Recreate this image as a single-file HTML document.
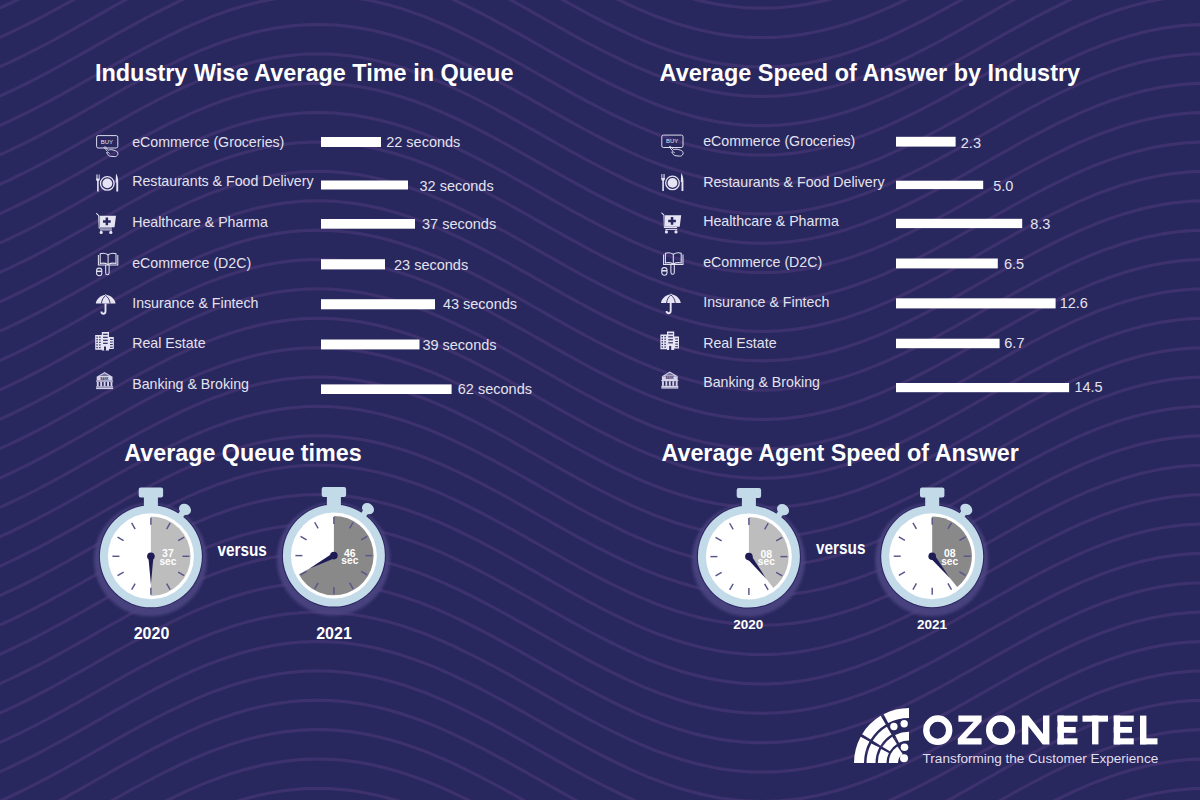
<!DOCTYPE html><html><head><meta charset="utf-8"><title>Ozonetel</title><style>html,body{margin:0;padding:0;background:#28275e;}svg{display:block;font-family:"Liberation Sans",sans-serif;}</style></head><body><svg width="1200" height="800" viewBox="0 0 1200 800"><defs><filter id="hb" x="-20%" y="-20%" width="140%" height="140%"><feGaussianBlur stdDeviation="1.6"/></filter></defs><rect width="1200" height="800" fill="#28275e"/><defs><path id="wv" d="M-18 137.8 L-12 135.4 L-6 132.9 L0 130.3 L6 127.6 L12 124.8 L18 121.9 L24 119.0 L30 116.0 L36 113.0 L42 109.8 L48 106.7 L54 103.4 L60 100.2 L66 96.9 L72 93.5 L78 90.2 L84 86.8 L90 83.4 L96 80.0 L102 76.6 L108 73.2 L114 69.8 L120 66.5 L126 63.1 L132 59.8 L138 56.6 L144 53.3 L150 50.2 L156 47.0 L162 44.0 L168 41.0 L174 38.1 L180 35.2 L186 32.4 L192 29.7 L198 27.1 L204 24.6 L210 22.2 L216 19.9 L222 17.8 L228 15.7 L234 13.7 L240 11.9 L246 10.2 L252 8.6 L258 7.1 L264 5.8 L270 4.6 L276 3.5 L282 2.6 L288 1.8 L294 1.2 L300 0.6 L306 0.3 L312 0.1 L318 0.0 L324 0.1 L330 0.3 L336 0.6 L342 1.2 L348 1.8 L354 2.6 L360 3.5 L366 4.6 L372 5.8 L378 7.1 L384 8.6 L390 10.2 L396 11.9 L402 13.7 L408 15.7 L414 17.8 L420 19.9 L426 22.2 L432 24.6 L438 27.1 L444 29.7 L450 32.4 L456 35.2 L462 38.1 L468 41.0 L474 44.0 L480 47.0 L486 50.2 L492 53.3 L498 56.6 L504 59.8 L510 63.1 L516 66.5 L522 69.8 L528 73.2 L534 76.6 L540 80.0 L546 83.4 L552 86.8 L558 90.2 L564 93.5 L570 96.9 L576 100.2 L582 103.4 L588 106.7 L594 109.8 L600 113.0 L606 116.0 L612 119.0 L618 121.9 L624 124.8 L630 127.6 L636 130.3 L642 132.9 L648 135.4 L654 137.8 L660 140.1 L666 142.2 L672 144.3 L678 146.3 L684 148.1 L690 149.8 L696 151.4 L702 152.9 L708 154.2 L714 155.4 L720 156.5 L726 157.4 L732 158.2 L738 158.8 L744 159.4 L750 159.7 L756 159.9 L762 160.0 L768 159.9 L774 159.7 L780 159.4 L786 158.8 L792 158.2 L798 157.4 L804 156.5 L810 155.4 L816 154.2 L822 152.9 L828 151.4 L834 149.8 L840 148.1 L846 146.3 L852 144.3 L858 142.2 L864 140.1 L870 137.8 L876 135.4 L882 132.9 L888 130.3 L894 127.6 L900 124.8 L906 121.9 L912 119.0 L918 116.0 L924 113.0 L930 109.8 L936 106.7 L942 103.4 L948 100.2 L954 96.9 L960 93.5 L966 90.2 L972 86.8 L978 83.4 L984 80.0 L990 76.6 L996 73.2 L1002 69.8 L1008 66.5 L1014 63.1 L1020 59.8 L1026 56.6 L1032 53.3 L1038 50.2 L1044 47.0 L1050 44.0 L1056 41.0 L1062 38.1 L1068 35.2 L1074 32.4 L1080 29.7 L1086 27.1 L1092 24.6 L1098 22.2 L1104 19.9 L1110 17.8 L1116 15.7 L1122 13.7 L1128 11.9 L1134 10.2 L1140 8.6 L1146 7.1 L1152 5.8 L1158 4.6 L1164 3.5 L1170 2.6 L1176 1.8 L1182 1.2 L1188 0.6 L1194 0.3 L1200 0.1 L1206 0.0 L1212 0.1 L1218 0.3" fill="none" stroke="#3c316d" stroke-width="3.2"/><filter id="wb" x="0" y="0" width="1" height="1"><feGaussianBlur stdDeviation="0.55"/></filter></defs><g filter="url(#wb)"><use href="#wv" y="-328.1"/><use href="#wv" y="-298.7"/><use href="#wv" y="-269.3"/><use href="#wv" y="-239.9"/><use href="#wv" y="-210.5"/><use href="#wv" y="-181.2"/><use href="#wv" y="-151.8"/><use href="#wv" y="-122.4"/><use href="#wv" y="-93.0"/><use href="#wv" y="-63.6"/><use href="#wv" y="-34.3"/><use href="#wv" y="-4.9"/><use href="#wv" y="24.5"/><use href="#wv" y="53.9"/><use href="#wv" y="83.3"/><use href="#wv" y="112.6"/><use href="#wv" y="142.0"/><use href="#wv" y="171.4"/><use href="#wv" y="200.8"/><use href="#wv" y="230.2"/><use href="#wv" y="259.5"/><use href="#wv" y="288.9"/><use href="#wv" y="318.3"/><use href="#wv" y="347.7"/><use href="#wv" y="377.1"/><use href="#wv" y="406.4"/><use href="#wv" y="435.8"/><use href="#wv" y="465.2"/><use href="#wv" y="494.6"/><use href="#wv" y="524.0"/><use href="#wv" y="553.3"/><use href="#wv" y="582.7"/><use href="#wv" y="612.1"/><use href="#wv" y="641.5"/><use href="#wv" y="670.9"/><use href="#wv" y="700.2"/><use href="#wv" y="729.6"/><use href="#wv" y="759.0"/><use href="#wv" y="788.4"/><use href="#wv" y="817.8"/><use href="#wv" y="847.1"/><use href="#wv" y="876.5"/></g><text x="94.9" y="80.8" font-size="23.46" font-weight="bold" fill="#ffffff">Industry Wise Average Time in Queue</text><text x="659.6" y="81.2" font-size="23.46" font-weight="bold" fill="#ffffff">Average Speed of Answer by Industry</text><text x="124.3" y="461" font-size="23.3" font-weight="bold" fill="#ffffff">Average Queue times</text><text x="661.5" y="461.3" font-size="23.3" font-weight="bold" fill="#ffffff">Average Agent Speed of Answer</text><g transform="translate(96,135)" fill="none" stroke="#e6e4f3" stroke-width="0.95" stroke-linejoin="round"><rect x="0.6" y="0.6" width="21.2" height="12.4" rx="1.6"/><text x="10.9" y="8.9" font-size="6.2" fill="#e6e4f3" stroke="none" text-anchor="middle" textLength="12.4" lengthAdjust="spacingAndGlyphs">BUY</text><path d="M8.2 12.6 C8 12 8.8 11.5 9.4 12 L12.6 15.2 C13.8 14.6 15.6 14.5 17 15 L19.4 15.7 C21.2 16.2 22.3 17.8 21.8 19.4 C21.3 21 19.8 21.8 18.2 21.6 L14.8 21.3 C13.2 21.1 12.1 20.2 11.4 19 L10.6 17.4 C11.6 16.9 12.5 17.3 12.9 17.9 L13.4 18.6 M8.2 12.6 L11.4 16.3"/></g><g transform="translate(661.2,134.5)" fill="none" stroke="#e6e4f3" stroke-width="0.95" stroke-linejoin="round"><rect x="0.6" y="0.6" width="21.2" height="12.4" rx="1.6"/><text x="10.9" y="8.9" font-size="6.2" fill="#e6e4f3" stroke="none" text-anchor="middle" textLength="12.4" lengthAdjust="spacingAndGlyphs">BUY</text><path d="M8.2 12.6 C8 12 8.8 11.5 9.4 12 L12.6 15.2 C13.8 14.6 15.6 14.5 17 15 L19.4 15.7 C21.2 16.2 22.3 17.8 21.8 19.4 C21.3 21 19.8 21.8 18.2 21.6 L14.8 21.3 C13.2 21.1 12.1 20.2 11.4 19 L10.6 17.4 C11.6 16.9 12.5 17.3 12.9 17.9 L13.4 18.6 M8.2 12.6 L11.4 16.3"/></g><text x="132.2" y="146.7" font-size="14.2" fill="#e4e2ef">eCommerce (Groceries)</text><text x="703.2" y="145.8" font-size="14.2" fill="#e4e2ef">eCommerce (Groceries)</text><rect x="321" y="137" width="60.0" height="10.0" fill="#ffffff"/><text x="386.2" y="147.3" font-size="14.5" fill="#e4e2ef">22 seconds</text><rect x="896" y="136.8" width="59.6" height="9.8" fill="#ffffff"/><text x="960.8" y="147.9" font-size="14.5" fill="#e4e2ef">2.3</text><g transform="translate(96,174.5)" fill="#e6e4f3"><rect x="1.1" y="6" width="1.6" height="11"/><path d="M0 0 L0 4.5 C0 6 1 6.8 1.9 6.8 C2.8 6.8 3.8 6 3.8 4.5 L3.8 0 L3.2 0 L3.2 4 L2.3 4 L2.3 0 L1.5 0 L1.5 4 L0.6 4 L0.6 0Z"/><circle cx="11.3" cy="8.9" r="6.8" fill="none" stroke="#e6e4f3" stroke-width="1.3"/><circle cx="11.3" cy="8.9" r="4.9"/><path d="M20 -1 C21.5 1 22.2 4 22.2 7 L22.2 17 L20.3 17 L20.3 8 L19.6 8 Z"/></g><g transform="translate(661.2,174.0)" fill="#e6e4f3"><rect x="1.1" y="6" width="1.6" height="11"/><path d="M0 0 L0 4.5 C0 6 1 6.8 1.9 6.8 C2.8 6.8 3.8 6 3.8 4.5 L3.8 0 L3.2 0 L3.2 4 L2.3 4 L2.3 0 L1.5 0 L1.5 4 L0.6 4 L0.6 0Z"/><circle cx="11.3" cy="8.9" r="6.8" fill="none" stroke="#e6e4f3" stroke-width="1.3"/><circle cx="11.3" cy="8.9" r="4.9"/><path d="M20 -1 C21.5 1 22.2 4 22.2 7 L22.2 17 L20.3 17 L20.3 8 L19.6 8 Z"/></g><text x="132.2" y="186.3" font-size="14.2" fill="#e4e2ef">Restaurants &amp; Food Delivery</text><text x="703.2" y="186.5" font-size="14.2" fill="#e4e2ef">Restaurants &amp; Food Delivery</text><rect x="321" y="180.5" width="87.0" height="9.0" fill="#ffffff"/><text x="419.5" y="190.5" font-size="14.5" fill="#e4e2ef">32 seconds</text><rect x="896" y="180.7" width="87.2" height="8.4" fill="#ffffff"/><text x="993.2" y="190.6" font-size="14.5" fill="#e4e2ef">5.0</text><g transform="translate(96.5,212.8)" fill="#e6e4f3"><path d="M0 0 L2.6 2.4 L3.1 14.6 L15.3 14.6 L15.3 15.6 L2.2 15.6 L1.7 3 L-0.5 0.9Z"/><path fill-rule="evenodd" d="M3 3 L19.5 3 L18 14.5 L3.4 14.5Z M9.1 4.8 L11.6 4.8 L11.6 7.4 L14.2 7.4 L14.2 9.9 L11.6 9.9 L11.6 12.5 L9.1 12.5 L9.1 9.9 L6.5 9.9 L6.5 7.4 L9.1 7.4Z"/><circle cx="4.7" cy="19.6" r="1.6"/><circle cx="14.3" cy="19.6" r="1.6"/><rect x="3.5" y="16.6" width="12" height="1"/></g><g transform="translate(661.7,212.3)" fill="#e6e4f3"><path d="M0 0 L2.6 2.4 L3.1 14.6 L15.3 14.6 L15.3 15.6 L2.2 15.6 L1.7 3 L-0.5 0.9Z"/><path fill-rule="evenodd" d="M3 3 L19.5 3 L18 14.5 L3.4 14.5Z M9.1 4.8 L11.6 4.8 L11.6 7.4 L14.2 7.4 L14.2 9.9 L11.6 9.9 L11.6 12.5 L9.1 12.5 L9.1 9.9 L6.5 9.9 L6.5 7.4 L9.1 7.4Z"/><circle cx="4.7" cy="19.6" r="1.6"/><circle cx="14.3" cy="19.6" r="1.6"/><rect x="3.5" y="16.6" width="12" height="1"/></g><text x="132.2" y="227" font-size="14.2" fill="#e4e2ef">Healthcare &amp; Pharma</text><text x="703.2" y="226" font-size="14.2" fill="#e4e2ef">Healthcare &amp; Pharma</text><rect x="321" y="219" width="94.0" height="9.7" fill="#ffffff"/><text x="422.0" y="229.3" font-size="14.5" fill="#e4e2ef">37 seconds</text><rect x="896" y="218.8" width="126.2" height="9.3" fill="#ffffff"/><text x="1030.2" y="228.7" font-size="14.5" fill="#e4e2ef">8.3</text><g transform="translate(95.5,252.5)" fill="none" stroke="#e6e4f3" stroke-width="1.05"><path d="M2.9 2.6 L2.9 12.4 L22.3 12.4 L22.3 2.6"/><path d="M4.7 11 L4.7 1.3 C7.5 0.3 10 0.7 12.6 2.2 C15.2 0.7 17.7 0.3 20.5 1.3 L20.5 11 C17.7 10.2 15.2 10.6 12.6 12 C10 10.6 7.5 10.2 4.7 11Z"/><path d="M12.6 2.2 L12.6 12"/><path d="M10.2 12.4 L10.2 20.2 C10.2 21.6 11 22.3 11.9 22.3 C12.8 22.3 13.6 21.6 13.6 20.2 L13.6 12.4"/><rect x="1.1" y="15.6" width="5.2" height="7.6" rx="2.5"/><path d="M1.1 18.8 L6.3 18.8" stroke-width="1.5"/></g><g transform="translate(660.7,252.0)" fill="none" stroke="#e6e4f3" stroke-width="1.05"><path d="M2.9 2.6 L2.9 12.4 L22.3 12.4 L22.3 2.6"/><path d="M4.7 11 L4.7 1.3 C7.5 0.3 10 0.7 12.6 2.2 C15.2 0.7 17.7 0.3 20.5 1.3 L20.5 11 C17.7 10.2 15.2 10.6 12.6 12 C10 10.6 7.5 10.2 4.7 11Z"/><path d="M12.6 2.2 L12.6 12"/><path d="M10.2 12.4 L10.2 20.2 C10.2 21.6 11 22.3 11.9 22.3 C12.8 22.3 13.6 21.6 13.6 20.2 L13.6 12.4"/><rect x="1.1" y="15.6" width="5.2" height="7.6" rx="2.5"/><path d="M1.1 18.8 L6.3 18.8" stroke-width="1.5"/></g><text x="132.2" y="268" font-size="14.2" fill="#e4e2ef">eCommerce (D2C)</text><text x="703.2" y="267.3" font-size="14.2" fill="#e4e2ef">eCommerce (D2C)</text><rect x="321" y="259.2" width="64.0" height="10.2" fill="#ffffff"/><text x="394.0" y="270.1" font-size="14.5" fill="#e4e2ef">23 seconds</text><rect x="896" y="258.5" width="101.8" height="9.9" fill="#ffffff"/><text x="1004.0" y="269.4" font-size="14.5" fill="#e4e2ef">6.5</text><g transform="translate(95.8,293.7)"><path d="M10 0 L10.8 1.2 C15.5 1.8 19.3 5.5 19.8 9.8 L0 9.8 C0.5 5.5 4.3 1.8 9.2 1.2Z" fill="#e6e4f3"/><path d="M9.9 1.8 C7.5 3.5 6 6.5 5.6 9.8 M9.9 1.8 C12.4 3.5 13.9 6.5 14.3 9.8" fill="none" stroke="#28275e" stroke-width="0.9"/><path d="M9.7 9.8 L9.7 17.6 C9.7 19.2 8.7 20 7.6 20 C6.4 20 5.6 19.2 5.6 17.8" fill="none" stroke="#e6e4f3" stroke-width="1.9"/></g><g transform="translate(661.0,293.2)"><path d="M10 0 L10.8 1.2 C15.5 1.8 19.3 5.5 19.8 9.8 L0 9.8 C0.5 5.5 4.3 1.8 9.2 1.2Z" fill="#e6e4f3"/><path d="M9.9 1.8 C7.5 3.5 6 6.5 5.6 9.8 M9.9 1.8 C12.4 3.5 13.9 6.5 14.3 9.8" fill="none" stroke="#28275e" stroke-width="0.9"/><path d="M9.7 9.8 L9.7 17.6 C9.7 19.2 8.7 20 7.6 20 C6.4 20 5.6 19.2 5.6 17.8" fill="none" stroke="#e6e4f3" stroke-width="1.9"/></g><text x="132.2" y="308" font-size="14.2" fill="#e4e2ef">Insurance &amp; Fintech</text><text x="703.2" y="307" font-size="14.2" fill="#e4e2ef">Insurance &amp; Fintech</text><rect x="321" y="299.2" width="114.0" height="10.1" fill="#ffffff"/><text x="442.9" y="309.3" font-size="14.5" fill="#e4e2ef">43 seconds</text><rect x="896" y="298.3" width="159.6" height="10.1" fill="#ffffff"/><text x="1059.7" y="308.4" font-size="14.5" fill="#e4e2ef">12.6</text><g transform="translate(95.2,331.9)"><path d="M0 3 L6.6 3 L6.6 0 L13.8 0 L13.8 5.2 L18.6 5.2 L18.6 17.2 L13.8 17.2 L13.8 18.6 L6.6 18.6 L6.6 17.9 L0 17.9Z" fill="#e6e4f3"/><rect x="1.2" y="4.6" width="1.4" height="1.3" fill="#28275e"/><rect x="4.0" y="4.6" width="1.4" height="1.3" fill="#28275e"/><rect x="1.2" y="7.2" width="1.4" height="1.3" fill="#28275e"/><rect x="4.0" y="7.2" width="1.4" height="1.3" fill="#28275e"/><rect x="1.2" y="9.8" width="1.4" height="1.3" fill="#28275e"/><rect x="4.0" y="9.8" width="1.4" height="1.3" fill="#28275e"/><rect x="1.2" y="12.4" width="1.4" height="1.3" fill="#28275e"/><rect x="4.0" y="12.4" width="1.4" height="1.3" fill="#28275e"/><rect x="1.2" y="15.0" width="1.4" height="1.3" fill="#28275e"/><rect x="4.0" y="15.0" width="1.4" height="1.3" fill="#28275e"/><rect x="7.9" y="1.8" width="4.6" height="1.2" fill="#28275e"/><rect x="7.9" y="4.8" width="4.6" height="1.2" fill="#28275e"/><rect x="7.9" y="7.8" width="4.6" height="1.2" fill="#28275e"/><rect x="7.9" y="10.8" width="4.6" height="1.2" fill="#28275e"/><rect x="14.8" y="7.0" width="2.8" height="1" fill="#28275e"/><rect x="14.8" y="9.6" width="2.8" height="1" fill="#28275e"/><rect x="14.8" y="12.2" width="2.8" height="1" fill="#28275e"/><rect x="14.8" y="14.8" width="2.8" height="1" fill="#28275e"/><rect x="8.8" y="14.6" width="2" height="4.2" fill="#28275e"/></g><g transform="translate(660.4000000000001,331.4)"><path d="M0 3 L6.6 3 L6.6 0 L13.8 0 L13.8 5.2 L18.6 5.2 L18.6 17.2 L13.8 17.2 L13.8 18.6 L6.6 18.6 L6.6 17.9 L0 17.9Z" fill="#e6e4f3"/><rect x="1.2" y="4.6" width="1.4" height="1.3" fill="#28275e"/><rect x="4.0" y="4.6" width="1.4" height="1.3" fill="#28275e"/><rect x="1.2" y="7.2" width="1.4" height="1.3" fill="#28275e"/><rect x="4.0" y="7.2" width="1.4" height="1.3" fill="#28275e"/><rect x="1.2" y="9.8" width="1.4" height="1.3" fill="#28275e"/><rect x="4.0" y="9.8" width="1.4" height="1.3" fill="#28275e"/><rect x="1.2" y="12.4" width="1.4" height="1.3" fill="#28275e"/><rect x="4.0" y="12.4" width="1.4" height="1.3" fill="#28275e"/><rect x="1.2" y="15.0" width="1.4" height="1.3" fill="#28275e"/><rect x="4.0" y="15.0" width="1.4" height="1.3" fill="#28275e"/><rect x="7.9" y="1.8" width="4.6" height="1.2" fill="#28275e"/><rect x="7.9" y="4.8" width="4.6" height="1.2" fill="#28275e"/><rect x="7.9" y="7.8" width="4.6" height="1.2" fill="#28275e"/><rect x="7.9" y="10.8" width="4.6" height="1.2" fill="#28275e"/><rect x="14.8" y="7.0" width="2.8" height="1" fill="#28275e"/><rect x="14.8" y="9.6" width="2.8" height="1" fill="#28275e"/><rect x="14.8" y="12.2" width="2.8" height="1" fill="#28275e"/><rect x="14.8" y="14.8" width="2.8" height="1" fill="#28275e"/><rect x="8.8" y="14.6" width="2" height="4.2" fill="#28275e"/></g><text x="132.2" y="348.3" font-size="14.2" fill="#e4e2ef">Real Estate</text><text x="703.2" y="347.7" font-size="14.2" fill="#e4e2ef">Real Estate</text><rect x="321" y="339.5" width="98.5" height="9.9" fill="#ffffff"/><text x="422.4" y="349.6" font-size="14.5" fill="#e4e2ef">39 seconds</text><rect x="896" y="338.7" width="103.6" height="9.5" fill="#ffffff"/><text x="1004.3" y="348.2" font-size="14.5" fill="#e4e2ef">6.7</text><g transform="translate(96.1,371.9)" fill="#d6d3ea"><path d="M0.2 5 L8.5 0 L16.8 5Z"/><path d="M3.6 4.1 L8.5 1.3 L13.4 4.1Z" fill="#28275e" fill-opacity="0.55"/><rect x="0.6" y="5" width="15.8" height="3.6"/><text x="8.5" y="7.9" font-size="3.2" font-weight="bold" fill="#28275e" text-anchor="middle" textLength="8" lengthAdjust="spacingAndGlyphs">BANK</text><rect x="0" y="8.6" width="17" height="1.2"/><rect x="0.7" y="9.8" width="1.9" height="4.6"/><rect x="4.1" y="9.8" width="1.9" height="4.6"/><rect x="7.55" y="9.8" width="1.9" height="4.6"/><rect x="11" y="9.8" width="1.9" height="4.6"/><rect x="14.4" y="9.8" width="1.9" height="4.6"/><rect x="0" y="14.4" width="17" height="1.2"/><rect x="0" y="15.8" width="17" height="1.4"/></g><g transform="translate(661.3000000000001,371.4)" fill="#d6d3ea"><path d="M0.2 5 L8.5 0 L16.8 5Z"/><path d="M3.6 4.1 L8.5 1.3 L13.4 4.1Z" fill="#28275e" fill-opacity="0.55"/><rect x="0.6" y="5" width="15.8" height="3.6"/><text x="8.5" y="7.9" font-size="3.2" font-weight="bold" fill="#28275e" text-anchor="middle" textLength="8" lengthAdjust="spacingAndGlyphs">BANK</text><rect x="0" y="8.6" width="17" height="1.2"/><rect x="0.7" y="9.8" width="1.9" height="4.6"/><rect x="4.1" y="9.8" width="1.9" height="4.6"/><rect x="7.55" y="9.8" width="1.9" height="4.6"/><rect x="11" y="9.8" width="1.9" height="4.6"/><rect x="14.4" y="9.8" width="1.9" height="4.6"/><rect x="0" y="14.4" width="17" height="1.2"/><rect x="0" y="15.8" width="17" height="1.4"/></g><text x="132.2" y="388.8" font-size="14.2" fill="#e4e2ef">Banking &amp; Broking</text><text x="703.2" y="387.4" font-size="14.2" fill="#e4e2ef">Banking &amp; Broking</text><rect x="321" y="384.4" width="130.6" height="9.6" fill="#ffffff"/><text x="457.8" y="393.6" font-size="14.5" fill="#e4e2ef">62 seconds</text><rect x="896" y="383" width="173.1" height="9.2" fill="#ffffff"/><text x="1074.4" y="391.8" font-size="14.5" fill="#e4e2ef">14.5</text><g><circle cx="150.4" cy="559.8" r="56.5" fill="#4e4683" fill-opacity="0.85" filter="url(#hb)"/><circle cx="150.9" cy="556.3" r="52.0" fill="#2a2560"/><rect x="143.9" y="496.29999999999995" width="14" height="12" fill="#c3dbe8"/><rect x="138.70000000000002" y="487.59999999999997" width="24.4" height="10" rx="2" fill="#c3dbe8"/><line x1="179.7" y1="516.7" x2="185.0" y2="509.4" stroke="#c3dbe8" stroke-width="6"/><ellipse cx="185.0" cy="509.4" rx="6.3" ry="5.3" transform="rotate(36 185.0 509.4)" fill="#c3dbe8"/><circle cx="150.9" cy="556.3" r="51.0" fill="#c3dbe8"/><circle cx="150.9" cy="556.3" r="43" fill="#ffffff"/><path d="M150.90 556.30 L150.90 516.60 A39.7 39.7 0 0 1 150.90 596.00 Z" fill="#bdbdbd"/><line x1="150.90" y1="524.80" x2="150.90" y2="517.80" stroke="#58558a" stroke-width="1.45"/><line x1="166.65" y1="529.02" x2="170.15" y2="522.96" stroke="#58558a" stroke-width="1.45"/><line x1="178.18" y1="540.55" x2="184.24" y2="537.05" stroke="#58558a" stroke-width="1.45"/><line x1="182.40" y1="556.30" x2="189.40" y2="556.30" stroke="#58558a" stroke-width="1.45"/><line x1="178.18" y1="572.05" x2="184.24" y2="575.55" stroke="#58558a" stroke-width="1.45"/><line x1="166.65" y1="583.58" x2="170.15" y2="589.64" stroke="#58558a" stroke-width="1.45"/><line x1="150.90" y1="587.80" x2="150.90" y2="594.80" stroke="#58558a" stroke-width="1.45"/><line x1="135.15" y1="583.58" x2="131.65" y2="589.64" stroke="#58558a" stroke-width="1.45"/><line x1="123.62" y1="572.05" x2="117.56" y2="575.55" stroke="#58558a" stroke-width="1.45"/><line x1="119.40" y1="556.30" x2="112.40" y2="556.30" stroke="#58558a" stroke-width="1.45"/><line x1="123.62" y1="540.55" x2="117.56" y2="537.05" stroke="#58558a" stroke-width="1.45"/><line x1="135.15" y1="529.02" x2="131.65" y2="522.96" stroke="#58558a" stroke-width="1.45"/><path d="M153.50 556.30 L150.90 584.30 L148.30 556.30 Z" fill="#1f1b55"/><circle cx="150.9" cy="556.3" r="3.8" fill="#1f1b55"/><text x="167.90" y="557.20" font-size="11.2" font-weight="bold" fill="#fff" text-anchor="middle" textLength="11.6" lengthAdjust="spacingAndGlyphs">37</text><text x="167.90" y="565.10" font-size="11.2" font-weight="bold" fill="#fff" text-anchor="middle" textLength="17" lengthAdjust="spacingAndGlyphs">sec</text></g><g><circle cx="333.4" cy="559.1" r="56.5" fill="#4e4683" fill-opacity="0.85" filter="url(#hb)"/><circle cx="333.9" cy="555.6" r="52.0" fill="#2a2560"/><rect x="326.9" y="495.6" width="14" height="12" fill="#c3dbe8"/><rect x="321.7" y="486.90000000000003" width="24.4" height="10" rx="2" fill="#c3dbe8"/><line x1="362.7" y1="516.0" x2="368.0" y2="508.7" stroke="#c3dbe8" stroke-width="6"/><ellipse cx="368.0" cy="508.7" rx="6.3" ry="5.3" transform="rotate(36 368.0 508.7)" fill="#c3dbe8"/><circle cx="333.9" cy="555.6" r="51.0" fill="#c3dbe8"/><circle cx="333.9" cy="555.6" r="43" fill="#ffffff"/><path d="M333.90 555.60 L333.90 515.90 A39.7 39.7 0 1 1 298.85 574.24 Z" fill="#898989"/><line x1="333.90" y1="524.10" x2="333.90" y2="517.10" stroke="#58558a" stroke-width="1.45"/><line x1="349.65" y1="528.32" x2="353.15" y2="522.26" stroke="#58558a" stroke-width="1.45"/><line x1="361.18" y1="539.85" x2="367.24" y2="536.35" stroke="#58558a" stroke-width="1.45"/><line x1="365.40" y1="555.60" x2="372.40" y2="555.60" stroke="#58558a" stroke-width="1.45"/><line x1="361.18" y1="571.35" x2="367.24" y2="574.85" stroke="#58558a" stroke-width="1.45"/><line x1="349.65" y1="582.88" x2="353.15" y2="588.94" stroke="#58558a" stroke-width="1.45"/><line x1="333.90" y1="587.10" x2="333.90" y2="594.10" stroke="#58558a" stroke-width="1.45"/><line x1="318.15" y1="582.88" x2="314.65" y2="588.94" stroke="#58558a" stroke-width="1.45"/><line x1="306.62" y1="571.35" x2="300.56" y2="574.85" stroke="#58558a" stroke-width="1.45"/><line x1="302.40" y1="555.60" x2="295.40" y2="555.60" stroke="#58558a" stroke-width="1.45"/><line x1="306.62" y1="539.85" x2="300.56" y2="536.35" stroke="#58558a" stroke-width="1.45"/><line x1="318.15" y1="528.32" x2="314.65" y2="522.26" stroke="#58558a" stroke-width="1.45"/><path d="M335.12 557.90 L309.18 568.75 L332.68 553.30 Z" fill="#1f1b55"/><circle cx="333.9" cy="555.6" r="3.8" fill="#1f1b55"/><text x="349.80" y="556.50" font-size="11.2" font-weight="bold" fill="#fff" text-anchor="middle" textLength="11.6" lengthAdjust="spacingAndGlyphs">46</text><text x="349.80" y="564.40" font-size="11.2" font-weight="bold" fill="#fff" text-anchor="middle" textLength="17" lengthAdjust="spacingAndGlyphs">sec</text></g><g><circle cx="748.4" cy="560.1" r="56.5" fill="#4e4683" fill-opacity="0.85" filter="url(#hb)"/><circle cx="748.9" cy="556.6" r="52.0" fill="#2a2560"/><rect x="741.9" y="496.6" width="14" height="12" fill="#c3dbe8"/><rect x="736.6999999999999" y="487.90000000000003" width="24.4" height="10" rx="2" fill="#c3dbe8"/><line x1="777.7" y1="517.0" x2="783.0" y2="509.7" stroke="#c3dbe8" stroke-width="6"/><ellipse cx="783.0" cy="509.7" rx="6.3" ry="5.3" transform="rotate(36 783.0 509.7)" fill="#c3dbe8"/><circle cx="748.9" cy="556.6" r="51.0" fill="#c3dbe8"/><circle cx="748.9" cy="556.6" r="43" fill="#ffffff"/><path d="M748.90 556.60 L748.90 516.90 A39.7 39.7 0 0 1 773.34 587.88 Z" fill="#bdbdbd"/><line x1="748.90" y1="525.10" x2="748.90" y2="518.10" stroke="#58558a" stroke-width="1.45"/><line x1="764.65" y1="529.32" x2="768.15" y2="523.26" stroke="#58558a" stroke-width="1.45"/><line x1="776.18" y1="540.85" x2="782.24" y2="537.35" stroke="#58558a" stroke-width="1.45"/><line x1="780.40" y1="556.60" x2="787.40" y2="556.60" stroke="#58558a" stroke-width="1.45"/><line x1="776.18" y1="572.35" x2="782.24" y2="575.85" stroke="#58558a" stroke-width="1.45"/><line x1="764.65" y1="583.88" x2="768.15" y2="589.94" stroke="#58558a" stroke-width="1.45"/><line x1="748.90" y1="588.10" x2="748.90" y2="595.10" stroke="#58558a" stroke-width="1.45"/><line x1="733.15" y1="583.88" x2="729.65" y2="589.94" stroke="#58558a" stroke-width="1.45"/><line x1="721.62" y1="572.35" x2="715.56" y2="575.85" stroke="#58558a" stroke-width="1.45"/><line x1="717.40" y1="556.60" x2="710.40" y2="556.60" stroke="#58558a" stroke-width="1.45"/><line x1="721.62" y1="540.85" x2="715.56" y2="537.35" stroke="#58558a" stroke-width="1.45"/><line x1="733.15" y1="529.32" x2="729.65" y2="523.26" stroke="#58558a" stroke-width="1.45"/><path d="M750.95 555.00 L766.14 578.66 L746.85 558.20 Z" fill="#1f1b55"/><circle cx="748.9" cy="556.6" r="3.8" fill="#1f1b55"/><text x="766.30" y="557.50" font-size="11.2" font-weight="bold" fill="#fff" text-anchor="middle" textLength="11.6" lengthAdjust="spacingAndGlyphs">08</text><text x="766.30" y="565.40" font-size="11.2" font-weight="bold" fill="#fff" text-anchor="middle" textLength="17" lengthAdjust="spacingAndGlyphs">sec</text></g><g><circle cx="931.7" cy="559.7" r="56.5" fill="#4e4683" fill-opacity="0.85" filter="url(#hb)"/><circle cx="932.2" cy="556.2" r="52.0" fill="#2a2560"/><rect x="925.2" y="496.20000000000005" width="14" height="12" fill="#c3dbe8"/><rect x="920.0" y="487.50000000000006" width="24.4" height="10" rx="2" fill="#c3dbe8"/><line x1="961.0" y1="516.6" x2="966.3" y2="509.3" stroke="#c3dbe8" stroke-width="6"/><ellipse cx="966.3" cy="509.3" rx="6.3" ry="5.3" transform="rotate(36 966.3 509.3)" fill="#c3dbe8"/><circle cx="932.2" cy="556.2" r="51.0" fill="#c3dbe8"/><circle cx="932.2" cy="556.2" r="43" fill="#ffffff"/><path d="M932.20 556.20 L932.20 516.50 A39.7 39.7 0 0 1 957.18 587.05 Z" fill="#898989"/><line x1="932.20" y1="524.70" x2="932.20" y2="517.70" stroke="#58558a" stroke-width="1.45"/><line x1="947.95" y1="528.92" x2="951.45" y2="522.86" stroke="#58558a" stroke-width="1.45"/><line x1="959.48" y1="540.45" x2="965.54" y2="536.95" stroke="#58558a" stroke-width="1.45"/><line x1="963.70" y1="556.20" x2="970.70" y2="556.20" stroke="#58558a" stroke-width="1.45"/><line x1="959.48" y1="571.95" x2="965.54" y2="575.45" stroke="#58558a" stroke-width="1.45"/><line x1="947.95" y1="583.48" x2="951.45" y2="589.54" stroke="#58558a" stroke-width="1.45"/><line x1="932.20" y1="587.70" x2="932.20" y2="594.70" stroke="#58558a" stroke-width="1.45"/><line x1="916.45" y1="583.48" x2="912.95" y2="589.54" stroke="#58558a" stroke-width="1.45"/><line x1="904.92" y1="571.95" x2="898.86" y2="575.45" stroke="#58558a" stroke-width="1.45"/><line x1="900.70" y1="556.20" x2="893.70" y2="556.20" stroke="#58558a" stroke-width="1.45"/><line x1="904.92" y1="540.45" x2="898.86" y2="536.95" stroke="#58558a" stroke-width="1.45"/><line x1="916.45" y1="528.92" x2="912.95" y2="522.86" stroke="#58558a" stroke-width="1.45"/><path d="M934.22 554.56 L949.82 577.96 L930.18 557.84 Z" fill="#1f1b55"/><circle cx="932.2" cy="556.2" r="3.8" fill="#1f1b55"/><text x="949.70" y="557.10" font-size="11.2" font-weight="bold" fill="#fff" text-anchor="middle" textLength="11.6" lengthAdjust="spacingAndGlyphs">08</text><text x="949.70" y="565.00" font-size="11.2" font-weight="bold" fill="#fff" text-anchor="middle" textLength="17" lengthAdjust="spacingAndGlyphs">sec</text></g><text x="217.4" y="555.6" font-size="17.6" font-weight="bold" fill="#ffffff" textLength="49.4" lengthAdjust="spacingAndGlyphs">versus</text><text x="816" y="554.3" font-size="17.6" font-weight="bold" fill="#ffffff" textLength="49.4" lengthAdjust="spacingAndGlyphs">versus</text><text x="151.5" y="639" font-size="16" font-weight="bold" fill="#ffffff" text-anchor="middle">2020</text><text x="334" y="639" font-size="16" font-weight="bold" fill="#ffffff" text-anchor="middle">2021</text><text x="748.3" y="629" font-size="13.5" font-weight="bold" fill="#ffffff" text-anchor="middle">2020</text><text x="932" y="629" font-size="13.5" font-weight="bold" fill="#ffffff" text-anchor="middle">2021</text><g fill="#ffffff"><path d="M854.00 763.00 A55 55 0 0 1 860.67 736.76 L869.45 741.53 A45 45 0 0 0 864.00 763.00Z"/><path d="M862.10 734.26 A55 55 0 0 1 880.67 715.86 L885.82 724.43 A45 45 0 0 0 870.63 739.49Z"/><path d="M883.60 714.21 A55 55 0 0 1 909.00 708.00 L909.00 718.00 A45 45 0 0 0 888.22 723.08Z"/><path d="M866.50 763.00 A42.5 42.5 0 0 1 871.30 743.38 L879.29 747.53 A33.5 33.5 0 0 0 875.50 763.00Z"/><path d="M872.76 740.79 A42.5 42.5 0 0 1 886.79 726.76 L891.50 734.44 A33.5 33.5 0 0 0 880.44 745.50Z"/><circle cx="893.88" cy="726.51" r="3.7"/><circle cx="904.19" cy="723.79" r="3.7"/><path d="M877.80 763.00 A31.2 31.2 0 0 1 881.08 749.08 L888.86 752.96 A22.5 22.5 0 0 0 886.50 763.00Z"/><path d="M882.40 746.70 A31.2 31.2 0 0 1 892.24 736.69 L896.91 744.02 A22.5 22.5 0 0 0 889.82 751.24Z"/><path d="M895.08 735.08 A31.2 31.2 0 0 1 909.00 731.80 L909.00 740.50 A22.5 22.5 0 0 0 898.96 742.86Z"/><path d="M888.80 763.00 A20.2 20.2 0 0 1 897.41 746.45 L902.69 753.99 A11 11 0 0 0 898.00 763.00Z"/><circle cx="904.48" cy="747.24" r="3.8"/><circle cx="904.03" cy="758.36" r="4"/></g><g fill="#ffffff"><ellipse cx="937.75" cy="730.2" rx="11.45" ry="11.70" fill="none" stroke="#ffffff" stroke-width="6.4"/><ellipse cx="1000.60" cy="730.2" rx="11.40" ry="11.70" fill="none" stroke="#ffffff" stroke-width="6.4"/><path d="M958.4 715.6 L981.6 715.6 L981.6 721.3000000000001 L966.0 738.3 L981.6 738.3 L981.6 744.4 L957.8 744.4 L957.8 738.6999999999999 L973.6 721.7 L958.4 721.7Z"/><path d="M1021.9 744.4 L1021.9 715.6 L1028.6 715.6 L1043.0 733.9 L1043.0 715.6 L1049.4 715.6 L1049.4 744.4 L1042.7 744.4 L1028.3 726.1 L1028.3 744.4Z"/><rect x="1057.5" y="715.6" width="6.4" height="28.799999999999955"/><rect x="1057.5" y="715.6" width="20.0" height="6.1"/><rect x="1057.5" y="727.0" width="18.2" height="5.8"/><rect x="1057.5" y="738.3" width="20.0" height="6.1"/><rect x="1113.75" y="715.6" width="6.4" height="28.799999999999955"/><rect x="1113.75" y="715.6" width="20.0" height="6.1"/><rect x="1113.75" y="727.0" width="18.2" height="5.8"/><rect x="1113.75" y="738.3" width="20.0" height="6.1"/><rect x="1082.5" y="715.6" width="25.5" height="6.1"/><rect x="1092.05" y="715.6" width="6.4" height="28.799999999999955"/><rect x="1140" y="715.6" width="6.4" height="28.799999999999955"/><rect x="1140" y="738.3" width="17.5" height="6.1"/></g><text x="922.6" y="762.5" font-size="13.4" fill="#e0deef" textLength="235.6" lengthAdjust="spacingAndGlyphs">Transforming the Customer Experience</text></svg></body></html>
